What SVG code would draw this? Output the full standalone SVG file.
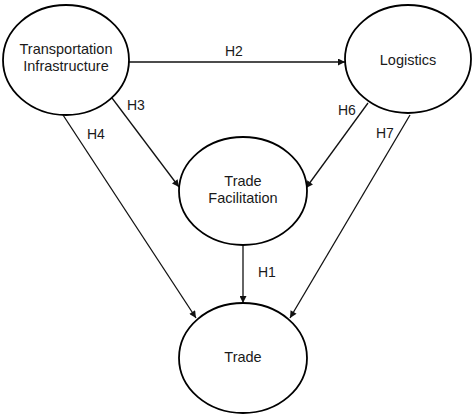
<svg xmlns="http://www.w3.org/2000/svg" width="474" height="418" viewBox="0 0 474 418">
<style>
.node{fill:#fff;stroke:#000;stroke-width:1.8}
.nt{font-family:"Liberation Sans",Arial,sans-serif;font-size:14.5px;fill:#1a1a1a;text-anchor:middle}
.lb{font-family:"Liberation Sans",Arial,sans-serif;font-size:14px;fill:#1a1a1a}
.edge{stroke:#111;stroke-width:1.3;fill:none;marker-end:url(#ah)}
</style>
<defs>
<marker id="ah" viewBox="0 0 10 10" refX="10" refY="5" markerWidth="8" markerHeight="7" markerUnits="userSpaceOnUse" orient="auto">
<path d="M0,0 L10,5 L0,10 Z" fill="#111"/>
</marker>
</defs>
<rect width="474" height="418" fill="#fff"/>
<g id="connectors">
<line class="edge" x1="129" y1="62" x2="345" y2="62"/>
<line class="edge" x1="112" y1="98" x2="179" y2="187"/>
<line class="edge" x1="63" y1="115" x2="196" y2="318"/>
<line class="edge" x1="368" y1="103" x2="306" y2="188"/>
<line class="edge" x1="410" y1="115" x2="290" y2="318"/>
<line class="edge" x1="243" y1="245" x2="243" y2="303"/>
<text class="lb" x="225" y="56">H2</text>
<text class="lb" x="127" y="110">H3</text>
<text class="lb" x="87" y="139">H4</text>
<text class="lb" x="338" y="115">H6</text>
<text class="lb" x="376" y="138">H7</text>
<text class="lb" x="258" y="277">H1</text>
</g>
<g id="transportation">
<ellipse class="node" cx="66" cy="60" rx="63" ry="55"/>
<text class="nt" x="66" y="54">Transportation</text>
<text class="nt" x="66" y="71">Infrastructure</text>
</g>
<g id="logistics">
<ellipse class="node" cx="408" cy="59" rx="63" ry="54"/>
<text class="nt" x="408" y="65">Logistics</text>
</g>
<g id="trade-facilitation">
<ellipse class="node" cx="243" cy="191" rx="64" ry="54"/>
<text class="nt" x="243" y="186">Trade</text>
<text class="nt" x="243" y="203">Facilitation</text>
</g>
<g id="trade">
<ellipse class="node" cx="243" cy="358" rx="64" ry="55"/>
<text class="nt" x="243" y="362">Trade</text>
</g>
</svg>
